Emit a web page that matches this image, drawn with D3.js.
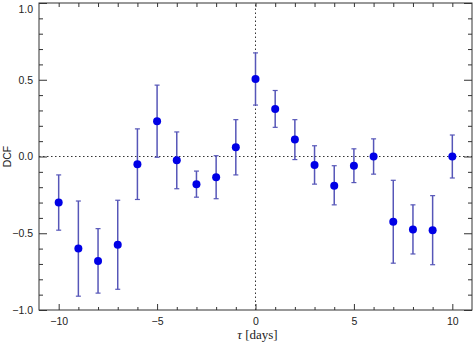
<!DOCTYPE html>
<html>
<head>
<meta charset="utf-8">
<script src="https://cdn.jsdelivr.net/npm/d3@7"></script>
<style>
  html, body { margin: 0; padding: 0; background: #fff; }
  svg { display: block; }
  .tick-label { font-family: "Liberation Sans", Arial, sans-serif; font-size: 10.5px; fill: #222; }
  .axis-title { font-family: "Liberation Serif", "Times New Roman", serif; font-size: 13px; fill: #222; }
</style>
</head>
<body>
<svg id="chart" width="474" height="344"></svg>
<script>
// Discrete correlation function versus time lag
const lags = [-10, -9, -8, -7, -6, -5, -4, -3, -2, -1, 0, 1, 2, 3, 4, 5, 6, 7, 8, 9, 10];
const dcf  = [-0.30, -0.60, -0.68, -0.575, -0.05, 0.23, -0.025, -0.18, -0.135, 0.06, 0.505, 0.31, 0.11, -0.055, -0.19, -0.06, 0.0, -0.425, -0.475, -0.48, 0.0];
const errHi = [0.18, 0.31, 0.21, 0.29, 0.23, 0.235, 0.185, 0.085, 0.14, 0.18, 0.17, 0.12, 0.13, 0.125, 0.13, 0.11, 0.115, 0.27, 0.16, 0.225, 0.14];
const errLo = [0.18, 0.31, 0.21, 0.29, 0.23, 0.235, 0.185, 0.085, 0.14, 0.18, 0.17, 0.12, 0.13, 0.125, 0.125, 0.11, 0.115, 0.27, 0.16, 0.225, 0.14];

const xMajor = [-10, -5, 0, 5, 10];
const xMinor = d3.range(-10, 11, 1);
const yMajor = [-1.0, -0.5, 0.0, 0.5, 1.0];
const yMinor = d3.range(-10, 11, 1).map(v => v / 10);

const svg = d3.select("#chart");
const plotLeft = 39, plotRight = 472, plotTop = 3, plotBottom = 310;

const x = d3.scaleLinear().domain([-11, 11]).range([plotLeft, plotRight]);
const y = d3.scaleLinear().domain([-1, 1]).range([plotBottom, plotTop]);

const fmtY = v => d3.format(".1f")(v).replace("-", "\u2212");
const fmtX = v => String(v).replace("-", "\u2212");

// reference lines at zero lag and zero correlation
svg.append("line")
  .attr("x1", x(-11)).attr("x2", x(11))
  .attr("y1", y(0)).attr("y2", y(0))
  .attr("stroke", "#333").attr("stroke-width", 1)
  .attr("stroke-dasharray", "1.5,2.5");
svg.append("line")
  .attr("x1", x(0)).attr("x2", x(0))
  .attr("y1", y(-1)).attr("y2", y(1))
  .attr("stroke", "#333").attr("stroke-width", 1)
  .attr("stroke-dasharray", "1.5,2.5");

// frame
svg.append("rect")
  .attr("x", plotLeft).attr("y", plotTop)
  .attr("width", plotRight - plotLeft).attr("height", plotBottom - plotTop)
  .attr("fill", "none").attr("stroke", "#333").attr("stroke-width", 1);

function strip(g) {
  g.select(".domain").remove();
  g.selectAll("line").attr("stroke", "#333");
  return g;
}

// x axis ticks (bottom and top, inward)
const gB = strip(svg.append("g").attr("transform", `translate(0,${plotBottom})`)
  .call(d3.axisBottom(x).tickValues(xMajor).tickFormat(fmtX).tickSize(-6).tickPadding(8)));
gB.selectAll("text").attr("class", "tick-label").attr("fill", null);

strip(svg.append("g").attr("transform", `translate(0,${plotBottom})`)
  .call(d3.axisBottom(x).tickValues(xMinor.filter(v => !xMajor.includes(v))).tickFormat("").tickSize(-3)));

strip(svg.append("g").attr("transform", `translate(0,${plotTop})`)
  .call(d3.axisTop(x).tickValues(xMinor).tickFormat("").tickSize(-4)));

// y axis ticks (left and right, inward)
const yMinorOnly = yMinor.filter(v => !yMajor.some(m => Math.abs(m - v) < 1e-9));

const gL = strip(svg.append("g").attr("transform", `translate(${plotLeft},0)`)
  .call(d3.axisLeft(y).tickValues(yMajor).tickFormat(fmtY).tickSize(-8).tickPadding(6)));
gL.selectAll("text").attr("class", "tick-label").attr("fill", null);
// keep the topmost label inside the canvas
gL.selectAll(".tick text").filter(d => d === 1).attr("dy", "0.9em");

strip(svg.append("g").attr("transform", `translate(${plotLeft},0)`)
  .call(d3.axisLeft(y).tickValues(yMinorOnly).tickFormat("").tickSize(-4)));

strip(svg.append("g").attr("transform", `translate(${plotRight},0)`)
  .call(d3.axisRight(y).tickValues(yMajor).tickFormat("").tickSize(-8)));

strip(svg.append("g").attr("transform", `translate(${plotRight},0)`)
  .call(d3.axisRight(y).tickValues(yMinorOnly).tickFormat("").tickSize(-4)));

// axis titles
svg.append("text")
  .attr("class", "tick-label")
  .attr("transform", `translate(11,${y(0)}) rotate(-90)`)
  .attr("text-anchor", "middle")
  .text("DCF");

const xt = svg.append("text")
  .attr("class", "axis-title")
  .attr("x", x(0) + 2).attr("y", 339)
  .attr("text-anchor", "middle");
xt.append("tspan").attr("font-style", "italic").text("\u03C4");
xt.append("tspan").text(" [days]");

// error bars
const pts = lags.map((l, i) => ({ lag: l, v: dcf[i], hi: dcf[i] + errHi[i], lo: dcf[i] - errLo[i] }));
const errColor = "#5656b8";
const eb = svg.append("g").selectAll("g").data(pts).enter().append("g");
eb.append("line")
  .attr("x1", d => x(d.lag)).attr("x2", d => x(d.lag))
  .attr("y1", d => y(d.hi)).attr("y2", d => y(d.lo))
  .attr("stroke", errColor).attr("stroke-width", 1.5);
eb.append("line")
  .attr("x1", d => x(d.lag) - 2.5).attr("x2", d => x(d.lag) + 2.5)
  .attr("y1", d => y(d.hi)).attr("y2", d => y(d.hi))
  .attr("stroke", errColor).attr("stroke-width", 1.2);
eb.append("line")
  .attr("x1", d => x(d.lag) - 2.5).attr("x2", d => x(d.lag) + 2.5)
  .attr("y1", d => y(d.lo)).attr("y2", d => y(d.lo))
  .attr("stroke", errColor).attr("stroke-width", 1.2);

// points
svg.append("g").selectAll("circle").data(pts).enter().append("circle")
  .attr("cx", d => x(d.lag)).attr("cy", d => y(d.v))
  .attr("r", 4)
  .attr("fill", "#0000e6");
</script>
</body>
</html>
